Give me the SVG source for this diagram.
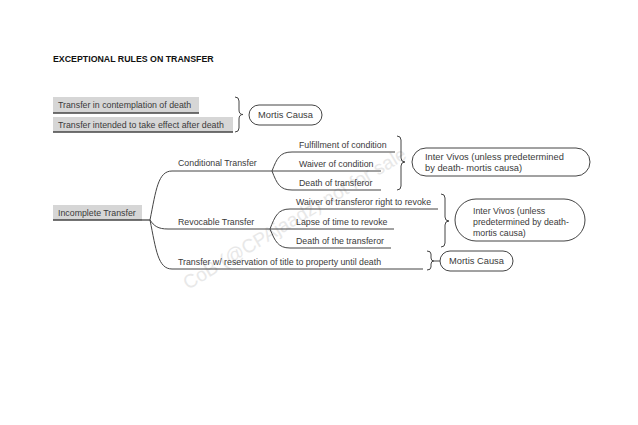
<svg xmlns="http://www.w3.org/2000/svg" width="638" height="425" viewBox="0 0 638 425">
<style>
  text { font-family: "Liberation Sans", Arial, sans-serif; fill: #3a3a3a; font-size: 8.8px; }
  .title { font-weight: bold; fill: #111; font-size: 8.8px; }
  .big { font-size: 9.3px; }
  .box { fill: #d6d6d6; stroke: none; }
  .ul { stroke: #444; stroke-width: 1.3; fill: none; }
  .ln { stroke: #444; stroke-width: 1; fill: none; }
  .br { stroke: #444; stroke-width: 1; fill: none; }
  .pill { fill: #fff; stroke: #444; stroke-width: 1; }
  .wm { font-size: 19px; fill: #e8e8e8; }
</style>
<rect width="638" height="425" fill="#fff"/>
<text class="wm" transform="translate(188,290) rotate(-31)">CoB (@CPAjaadz) not for sale</text>
<text class="title" x="53" y="62">EXCEPTIONAL RULES ON TRANSFER</text>

<g id="connectors">
  <line class="ul" x1="142" y1="220" x2="150" y2="220"/>
  <path class="ln" d="M150,220 C156,190 158,171 172,171 L272,171"/>
  <path class="ln" d="M150,220 C154,226 158,229 168,229 L270,229"/>
  <path class="ln" d="M150,220 C156,250 158,269 172,269 L423,269"/>
  <path class="ln" d="M272,171 C277,158 280,152 292,152 L395,152"/>
  <path class="ln" d="M272,171 L381,171"/>
  <path class="ln" d="M272,171 C277,184 280,190 292,190 L381,190"/>
  <path class="ln" d="M270,229 C275,216 278,209 290,209 L438,209"/>
  <path class="ln" d="M270,229 L394,229"/>
  <path class="ln" d="M270,229 C275,241 278,248 290,248 L391,248"/>
  <path class="br" d="M235,97 Q239,97 239,101 L239,110 Q239,114.5 243,114.5 Q239,114.5 239,119 L239,128 Q239,132 235,132"/>
  <path class="br" d="M397,136 Q401,136 401,140 L401,158 Q401,162 405,162 Q401,162 401,166 L401,186 Q401,190 397,190"/>
  <path class="br" d="M441,194 Q445,194 445,198 L445,217 Q445,221 449,221 Q445,221 445,225 L445,243 Q445,247 441,247"/>
  <path class="br" d="M427,251 Q431,251 431,254 L431,258 Q431,261 434,261 Q431,261 431,264 L431,267 Q431,270 427,270"/>
  <line class="br" x1="434" y1="261" x2="440" y2="261"/>
</g>

<g id="n-contemplation">
  <rect class="box" x="53" y="97" width="146" height="16"/>
  <line class="ul" x1="53" y1="113" x2="199" y2="113"/>
  <text x="58" y="108">Transfer in contemplation of death</text>
</g>
<g id="n-intended">
  <rect class="box" x="53" y="117" width="180" height="15"/>
  <line class="ul" x1="53" y1="132" x2="233" y2="132"/>
  <text x="58" y="128">Transfer intended to take effect after death</text>
</g>
<g id="n-mortis1">
  <rect class="pill" x="249" y="105" width="73" height="20" rx="10"/>
  <text class="big" x="285.5" y="118" text-anchor="middle">Mortis Causa</text>
</g>
<g id="n-incomplete">
  <rect class="box" x="53" y="205" width="89" height="15"/>
  <line class="ul" x1="53" y1="220" x2="142" y2="220"/>
  <text x="58" y="216">Incomplete Transfer</text>
</g>
<g id="n-conditional">
  <text x="178" y="166">Conditional Transfer</text>
</g>
<g id="n-revocable">
  <text x="178" y="225">Revocable Transfer</text>
</g>
<g id="n-reservation">
  <text x="178" y="265">Transfer w/ reservation of title to property until death</text>
</g>
<g id="n-fulfillment">
  <text x="299" y="148">Fulfillment of condition</text>
</g>
<g id="n-waiver-cond">
  <text x="299" y="167">Waiver of condition</text>
</g>
<g id="n-death1">
  <text x="299" y="186">Death of transferor</text>
</g>
<g id="n-waiver-revoke">
  <text x="296" y="205">Waiver of transferor right to revoke</text>
</g>
<g id="n-lapse">
  <text x="296" y="225">Lapse of time to revoke</text>
</g>
<g id="n-death2">
  <text x="296" y="244">Death of the transferor</text>
</g>
<g id="n-intervivos1">
  <rect class="pill" x="412" y="148" width="178" height="28" rx="14"/>
  <text class="big" x="425" y="160">Inter Vivos (unless predetermined</text>
  <text class="big" x="425" y="171">by death- mortis causa)</text>
</g>
<g id="n-intervivos2">
  <rect class="pill" x="455" y="199" width="130" height="42" rx="21"/>
  <text x="473" y="214">Inter Vivos (unless</text>
  <text x="473" y="225">predetermined by death-</text>
  <text x="473" y="236">mortis causa)</text>
</g>
<g id="n-mortis2">
  <rect class="pill" x="440" y="251" width="73" height="20" rx="10"/>
  <text class="big" x="476.5" y="264" text-anchor="middle">Mortis Causa</text>
</g>
</svg>
